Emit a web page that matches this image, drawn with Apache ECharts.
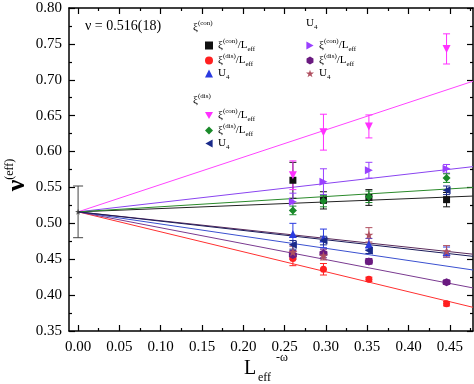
<!DOCTYPE html>
<html><head><meta charset="utf-8">
<script src="https://cdn.jsdelivr.net/npm/echarts@6/dist/echarts.min.js"></script>
<style>html,body{margin:0;padding:0;background:#fff}#c{width:474px;height:384px}</style>
</head><body><div id="c"></div>
<script>
// ---- data ----
const Lvals = [0.260, 0.297, 0.352, 0.446];
const xMajor = [0.00, 0.05, 0.10, 0.15, 0.20, 0.25, 0.30, 0.35, 0.40, 0.45];
const xMinor = [0.025, 0.075, 0.125, 0.175, 0.225, 0.275, 0.325, 0.375, 0.425, 0.475];
const nuExtrap = 0.516, nuExtrapErr = 0.036;
const fitX = [0, 0.478];

const conXiCon = [0.560, 0.532, 0.536, 0.533], conXiConErr = [0.025, 0.012, 0.011, 0.010], conXiConFit = 0.538;
const conXiDis = [0.451, 0.436, 0.422, 0.388], conXiDisErr = [0.010, 0.008, 0.003, 0.003], conXiDisFit = 0.383;
const conU4    = [0.485, 0.479, 0.471, 0.460], conU4Err    = [0.015, 0.013, 0.008, 0.007], conU4Fit    = 0.435;
const u4XiCon  = [0.530, 0.558, 0.574, 0.576], u4XiConErr  = [0.012, 0.018, 0.011, 0.006], u4XiConFit  = 0.579;
const u4XiDis  = [0.456, 0.458, 0.447, 0.418], u4XiDisErr  = [0.006, 0.006, 0.004, 0.003], u4XiDisFit  = 0.410;
const u4U4     = [0.460, 0.455, 0.484, 0.461], u4U4Err     = [0.008, 0.006, 0.010, 0.008], u4U4Fit     = 0.457;
const disXiCon = [0.567, 0.627, 0.635, 0.743], disXiConErr = [0.020, 0.025, 0.016, 0.021], disXiConFit = 0.698;
const disXiDis = [0.518, 0.531, 0.537, 0.563], disXiDisErr = [0.006, 0.008, 0.008, 0.006], disXiDisFit = 0.550;
const disU4    = [0.470, 0.476, 0.462, 0.546], disU4Err    = [0.006, 0.006, 0.004, 0.006], disU4Fit    = 0.454;

// ---- styling ----
const SERIF = 'Liberation Serif';
const P = {
  down: 'path://M0,0L10,0L5,9Z',
  right: 'path://M0,0L9,5L0,10Z',
  left: 'path://M9,0L0,5L9,10Z',
  hex: 'path://M5,0L9.33,2.5L9.33,7.5L5,10L0.67,7.5L0.67,2.5Z',
  star: 'path://M5,0L6.2,3.6L10,3.6L6.9,5.9L8.1,9.6L5,7.3L1.9,9.6L3.1,5.9L0,3.6L3.8,3.6Z'
};
const defs = [
  {id:'A1', vals:conXiCon, errs:conXiConErr, fit:conXiConFit, symbol:'rect', color:'#111', line:'#222', size:7},
  {id:'A2', vals:conXiDis, errs:conXiDisErr, fit:conXiDisFit, symbol:'circle', color:'#ff2020', line:'#ff3030', size:7},
  {id:'A3', vals:conU4, errs:conU4Err, fit:conU4Fit, symbol:'triangle', color:'#2a3ae0', line:'#3a50d0', size:8},
  {id:'B1', vals:u4XiCon, errs:u4XiConErr, fit:u4XiConFit, symbol:P.right, color:'#9a40ff', line:'#8a44f0', size:8},
  {id:'B2', vals:u4XiDis, errs:u4XiDisErr, fit:u4XiDisFit, symbol:P.hex, color:'#6a1a80', line:'#7a3a90', size:8},
  {id:'B3', vals:u4U4, errs:u4U4Err, fit:u4U4Fit, symbol:P.star, color:'#b05060', line:'#5a2a5a', size:9},
  {id:'C1', vals:disXiCon, errs:disXiConErr, fit:disXiConFit, symbol:P.down, color:'#ff30ff', line:'#ff44ff', size:8},
  {id:'C2', vals:disXiDis, errs:disXiDisErr, fit:disXiDisFit, symbol:'diamond', color:'#1a8a2a', line:'#2a8a2a', size:8},
  {id:'C3', vals:disU4, errs:disU4Err, fit:disU4Fit, symbol:P.left, color:'#1a2a8a', line:'#1a1a5a', size:8}
];
const labels = {
  A1:'{t|ξ}{sup|(con)}{t|/L}{sub|eff}', A2:'{t|ξ}{sup|(dis)}{t|/L}{sub|eff}', A3:'{t|U}{sub|4}',
  B1:'{t|ξ}{sup|(con)}{t|/L}{sub|eff}', B2:'{t|ξ}{sup|(dis)}{t|/L}{sub|eff}', B3:'{t|U}{sub|4}',
  C1:'{t|ξ}{sup|(con)}{t|/L}{sub|eff}', C2:'{t|ξ}{sup|(dis)}{t|/L}{sub|eff}', C3:'{t|U}{sub|4}'
};
const richLeg = {
  t:{fontFamily:SERIF, fontSize:11, color:'#000', lineHeight:15},
  sup:{fontFamily:SERIF, fontSize:7, color:'#000', lineHeight:8, verticalAlign:'top'},
  sub:{fontFamily:SERIF, fontSize:7, color:'#000', lineHeight:7, verticalAlign:'bottom'}
};

function errRender(color, hw){
  return function(params, api){
    const x = api.value(0), y = api.value(1), e = api.value(2);
    const t = api.coord([x, y + e]), b = api.coord([x, y - e]);
    const st = {stroke: color, lineWidth: 1};
    return {type:'group', children:[
      {type:'line', shape:{x1:t[0], y1:t[1], x2:b[0], y2:b[1]}, style:st},
      {type:'line', shape:{x1:t[0]-hw, y1:t[1], x2:t[0]+hw, y2:t[1]}, style:st},
      {type:'line', shape:{x1:b[0]-hw, y1:b[1], x2:b[0]+hw, y2:b[1]}, style:st}
    ]};
  };
}

const series = [];
defs.forEach(d => {
  series.push({type:'line', name:d.id+'fit', data: fitX.map((x,i)=>[x, i===0?nuExtrap:d.fit]),
    showSymbol:false, symbol:'none', lineStyle:{color:d.line, width:1}, z:1, silent:true, animation:false});
});
defs.forEach(d => {
  series.push({type:'custom', name:d.id+'err', renderItem: errRender(d.color, 3.5),
    data: Lvals.map((x,i)=>[x, d.vals[i], d.errs[i]]), encode:{x:0, y:1}, z:2, silent:true, animation:false});
});
defs.forEach(d => {
  series.push({type:'scatter', name:d.id, data: Lvals.map((x,i)=>[x, d.vals[i]]),
    symbol:d.symbol, symbolSize:d.size, itemStyle:{color:d.color, opacity:1}, z:3, animation:false});
});
series.push({type:'custom', name:'extrapErr', renderItem: errRender('#444', 5),
  data:[[0, nuExtrap, nuExtrapErr]], encode:{x:0, y:1}, z:2, silent:true, animation:false});
series.push({type:'scatter', name:'extrap', data:[[0, nuExtrap]], symbol:P.star, symbolSize:6,
  itemStyle:{color:'#333'}, z:4, animation:false});

const XMIN = -0.011, XMAX = 0.478;
const axisCommon = {type:'value', min:XMIN, max:XMAX, splitLine:{show:false}};
const gridBox = {left:69, right:1, top:8, bottom:53};

const option = {
  animation:false,
  grid:[Object.assign({}, gridBox), Object.assign({}, gridBox)],
  xAxis:[
    Object.assign({}, axisCommon, {gridIndex:0, position:'bottom',
      axisLine:{show:true, onZero:false, lineStyle:{color:'#000', width:1.5}},
      axisTick:{show:true, inside:true, length:6, customValues:xMajor, lineStyle:{color:'#000', width:1.2}},
      axisLabel:{show:true, customValues:xMajor, formatter:v=>v.toFixed(2), fontFamily:SERIF, fontSize:15, color:'#000', margin:9}}),
    Object.assign({}, axisCommon, {gridIndex:0, position:'top',
      axisLine:{show:true, onZero:false, lineStyle:{color:'#000', width:1.5}},
      axisTick:{show:true, inside:true, length:6, customValues:xMajor, lineStyle:{color:'#000', width:1.2}},
      axisLabel:{show:false}}),
    Object.assign({}, axisCommon, {gridIndex:1, position:'bottom',
      axisLine:{show:false},
      axisTick:{show:true, inside:true, length:3, customValues:xMinor, lineStyle:{color:'#000', width:1.2}},
      axisLabel:{show:false}}),
    Object.assign({}, axisCommon, {gridIndex:1, position:'top',
      axisLine:{show:false},
      axisTick:{show:true, inside:true, length:3, customValues:xMinor, lineStyle:{color:'#000', width:1.2}},
      axisLabel:{show:false}})
  ],
  yAxis:[
    {type:'value', gridIndex:0, position:'left', min:0.35, max:0.80, interval:0.05,
      axisLine:{show:true, onZero:false, lineStyle:{color:'#000', width:1.5}},
      axisTick:{show:true, inside:true, length:6, lineStyle:{color:'#000', width:1.2}},
      minorTick:{show:true, splitNumber:2, length:3, lineStyle:{color:'#000', width:1.2}},
      axisLabel:{formatter:v=>v.toFixed(2), fontFamily:SERIF, fontSize:15, color:'#000', margin:7},
      splitLine:{show:false}, minorSplitLine:{show:false}},
    {type:'value', gridIndex:0, position:'right', min:0.35, max:0.80, interval:0.05,
      axisLine:{show:true, onZero:false, lineStyle:{color:'#000', width:1.5}},
      axisTick:{show:true, inside:true, length:6, lineStyle:{color:'#000', width:1.2}},
      minorTick:{show:true, splitNumber:2, length:3, lineStyle:{color:'#000', width:1.2}},
      axisLabel:{show:false}, splitLine:{show:false}, minorSplitLine:{show:false}},
    {type:'value', gridIndex:1, min:0.35, max:0.80, show:false}
  ],
  legend:[
    {left:205, top:38, orient:'vertical', padding:0, itemGap:0, itemWidth:8, itemHeight:8,
      data:['A1','A2','A3'], formatter:n=>labels[n], textStyle:{rich:richLeg}, selectedMode:false},
    {left:306, top:38, orient:'vertical', padding:0, itemGap:0, itemWidth:8, itemHeight:8,
      data:['B1','B2','B3'], formatter:n=>labels[n], textStyle:{rich:richLeg}, selectedMode:false},
    {left:205, top:108, orient:'vertical', padding:0, itemGap:0, itemWidth:8, itemHeight:8,
      data:['C1','C2','C3'], formatter:n=>labels[n], textStyle:{rich:richLeg}, selectedMode:false}
  ],
  graphic:[
    {type:'text', left:193, top:20, style:{text:'{t|ξ}{sup|(con)}', rich:richLeg}},
    {type:'text', left:306, top:18, style:{text:'{t|U}{sub|4}', rich:richLeg}},
    {type:'text', left:193, top:93, style:{text:'{t|ξ}{sup|(dis)}', rich:richLeg}},
    {type:'text', left:85, top:19, style:{text:'ν = 0.516(18)', font:'14px "Liberation Serif"', fill:'#000'}},
    {type:'text', left:244, top:359, style:{text:'L', font:'20px "Liberation Serif"', fill:'#000'}},
    {type:'text', left:258, top:372, style:{text:'eff', font:'12px "Liberation Serif"', fill:'#000'}},
    {type:'text', left:276, top:352, z:10, style:{text:'-ω', font:'12px "Liberation Serif"', fill:'#000'}},
    {type:'text', x:17, y:175, rotation:Math.PI/2,
      style:{text:'{n|ν}{s|(eff)}', align:'center', verticalAlign:'middle',
        rich:{n:{fontFamily:SERIF, fontSize:26, fontWeight:'bold', color:'#000', lineHeight:26},
              s:{fontFamily:SERIF, fontSize:12, color:'#000', lineHeight:12, verticalAlign:'top'}}}}
  ],
  series: series
};
const chart = echarts.init(document.getElementById('c'), null, {renderer:'canvas'});
chart.setOption(option);
</script></body></html>
